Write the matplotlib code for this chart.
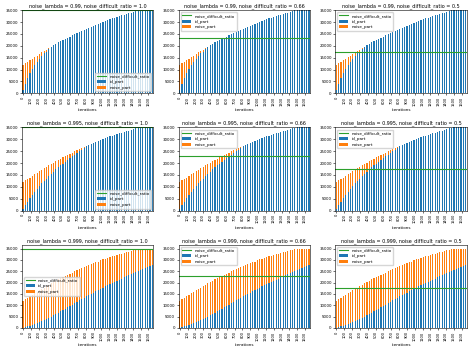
import matplotlib
matplotlib.use("Agg")
import matplotlib.pyplot as plt
import numpy as np

# iterations (every 30 steps)
iterations = list(range(0, 1651, 30))

# total samples per bar (same in every panel)
total = [12000, 12700, 13300, 13900, 14500, 15200, 15900, 16600, 17200, 17800,
         18400, 19000, 19600, 20200, 20800, 21400, 21900, 22400, 22900, 23400,
         23900, 24400, 24900, 25400, 25800, 26300, 26700, 27200, 27600, 28100,
         28500, 28900, 29300, 29800, 30200, 30500, 30900, 31200, 31600, 31900,
         32200, 32500, 32800, 33100, 33400, 33700, 34000, 34300, 34600, 34900,
         35000, 35000, 35000, 35000, 35000, 35000]

# id_part for each noise_lambda
id_099 = [1500, 4000, 6500, 8500, 10200, 11800, 13200, 14500, 15700, 16800,
          17600, 18600, 19400, 20200, 20800, 21400, 21900, 22400, 22900, 23400,
          23900, 24400, 24900, 25400, 25800, 26300, 26700, 27200, 27600, 28100,
          28500, 28900, 29300, 29800, 30200, 30500, 30900, 31200, 31600, 31900,
          32200, 32500, 32800, 33100, 33400, 33700, 34000, 34300, 34600, 34900,
          35000, 35000, 35000, 35000, 35000, 35000]
id_0995 = [800, 2300, 3800, 5200, 6500, 7800, 9000, 10200, 11400, 12500,
           13500, 14500, 15500, 16400, 17300, 18200, 19000, 19800, 20600, 21400,
           22100, 22800, 23500, 24200, 24900, 25600, 26300, 27000, 27600, 28100,
           28500, 28900, 29300, 29800, 30200, 30500, 30900, 31200, 31600, 31900,
           32200, 32500, 32800, 33100, 33400, 33700, 34000, 34300, 34600, 34900,
           35000, 35000, 35000, 35000, 35000, 35000]
id_0999 = [0, 300, 600, 900, 1300, 1700, 2100, 2500, 3000, 3500,
           4000, 4500, 5000, 5500, 6100, 6700, 7300, 7900, 8500, 9100,
           9700, 10300, 10900, 11500, 12100, 12700, 13300, 13900, 14500, 15000,
           15600, 16100, 16700, 17200, 17800, 18300, 18800, 19300, 19800, 20300,
           20800, 21300, 21800, 22300, 22800, 23300, 23800, 24200, 24700, 25100,
           25600, 26000, 26400, 26800, 27200, 27600]

lambdas = ["0.99", "0.995", "0.999"]
id_parts = [id_099, id_0995, id_0999]
ratios = ["1.0", "0.66", "0.5"]
ratio_vals = [1.0, 0.66, 0.5]
max_samples = 35000

legend_locs = [["lower right", "upper left", "upper left"],
               ["lower right", "upper left", "upper left"],
               ["center left", "upper left", "upper left"]]

fig, axes = plt.subplots(3, 3, figsize=(4.74, 3.51), dpi=100)
plt.subplots_adjust(left=0.046, right=0.985, top=0.971, bottom=0.066,
                    wspace=0.19, hspace=0.41)

for i, lam in enumerate(lambdas):
    idp = np.array(id_parts[i])
    noise = np.array(total) - idp
    for j, r in enumerate(ratios):
        ax = axes[i, j]
        line = ax.axhline(ratio_vals[j] * max_samples, color="tab:green", lw=0.8)
        b1 = ax.bar(iterations, idp, width=15, color="#1f77b4")
        b2 = ax.bar(iterations, noise, width=15, bottom=idp, color="#ff7f0e")
        ax.set_xlim(-15, 1665)
        ax.set_xticks(range(0, 1601, 100))
        ax.set_yticks(range(0, 35001, 5000))
        ax.tick_params(axis="x", labelsize=2.6, rotation=90, length=1.5, width=0.4, pad=1)
        ax.tick_params(axis="y", labelsize=2.9, length=1.5, width=0.4, pad=1)
        for s in ax.spines.values():
            s.set_linewidth(0.4)
        ax.set_xlabel("iterations", fontsize=3.0, labelpad=1.5)
        ax.set_title(f"noise_lambda = {lam}, noise_difficult_ratio = {r}",
                     fontsize=3.5, pad=2)
        ax.legend([line, b1, b2], ["noise_difficult_ratio", "id_part", "noise_part"],
                  loc=legend_locs[i][j], fontsize=3.0, handlelength=2.2,
                  borderpad=0.4, labelspacing=0.4, framealpha=0.8)

fig.savefig("out.png", dpi=100)
